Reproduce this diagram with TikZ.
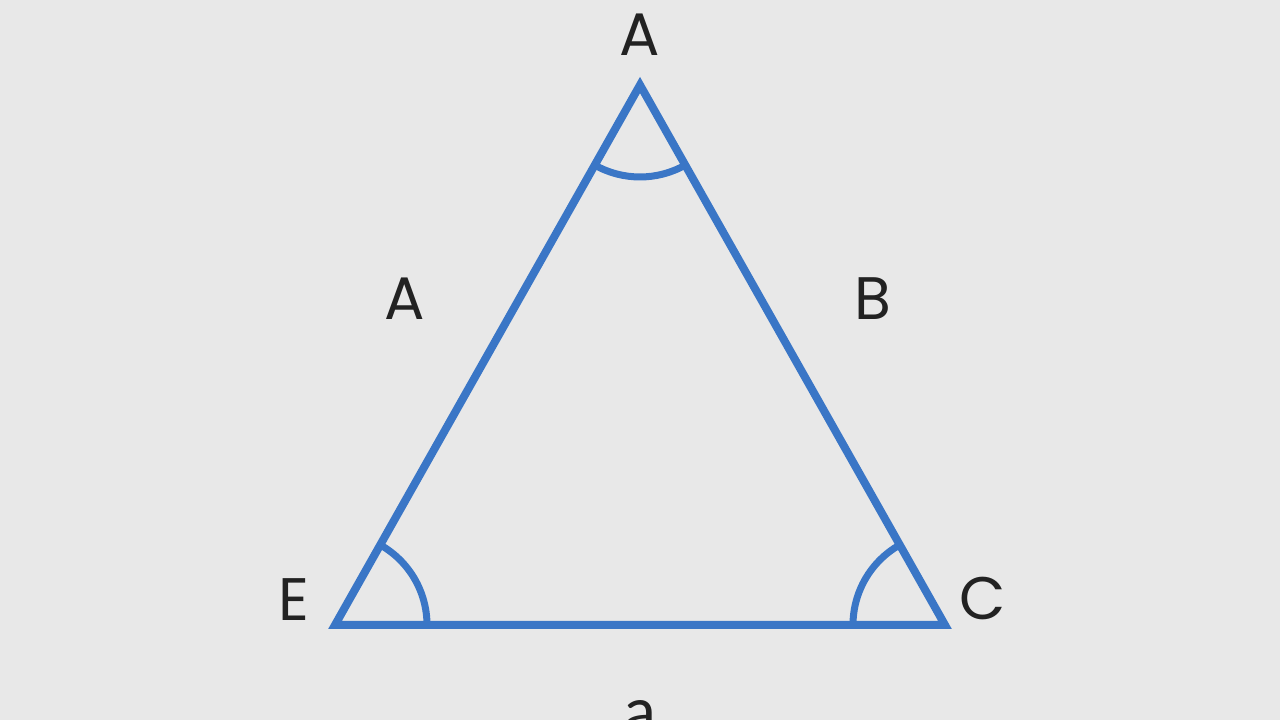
\documentclass[tikz,border=0pt]{standalone}
\usepackage{fontspec}
\setmainfont{Poppins}
\newfontfamily\lowfont{Lato}
\usetikzlibrary{calc}
\definecolor{bg}{HTML}{E8E8E8}
\definecolor{tblue}{HTML}{3A76C6}
\definecolor{ink}{HTML}{222222}
\tikzset{
  edge/.style={draw=tblue, line width=8pt, line join=miter},
  anglearc/.style={draw=tblue, line width=7pt},
  lbl/.style={text=ink, inner sep=0pt, font=\fontsize{60}{60}\selectfont}
}
\begin{document}
\begin{tikzpicture}[x=1pt,y=1pt]
\fill[bg] (0,0) rectangle (1280,720);
\useasboundingbox (0,0) rectangle (1280,720);
\coordinate (A) at (640,635);
\coordinate (E) at (335,95);
\coordinate (C) at (945,95);
\draw[edge] (A) -- (E) -- (C) -- cycle;
\draw[anglearc] ($(A)!92pt!(E)$) arc[start angle=240.55, end angle=299.45, radius=92pt];
\draw[anglearc] ($(E)!92pt!(C)$) arc[start angle=0, end angle=60.55, radius=92pt];
\draw[anglearc] ($(C)!92pt!(A)$) arc[start angle=119.45, end angle=180, radius=92pt];
\node[lbl] (lA) at (640,685) {A};
\node[lbl] (lA2) at (405,421) {A};
\node[lbl] (lB) at (873,421) {B};
\node[lbl] (lE) at (294,120) {E};
\node[lbl] (lC) at (983,121) {C};
\node[lbl, anchor=base, font=\lowfont\fontsize{64}{64}\selectfont] (la) at (640,-14) {a};
\end{tikzpicture}
\end{document}
